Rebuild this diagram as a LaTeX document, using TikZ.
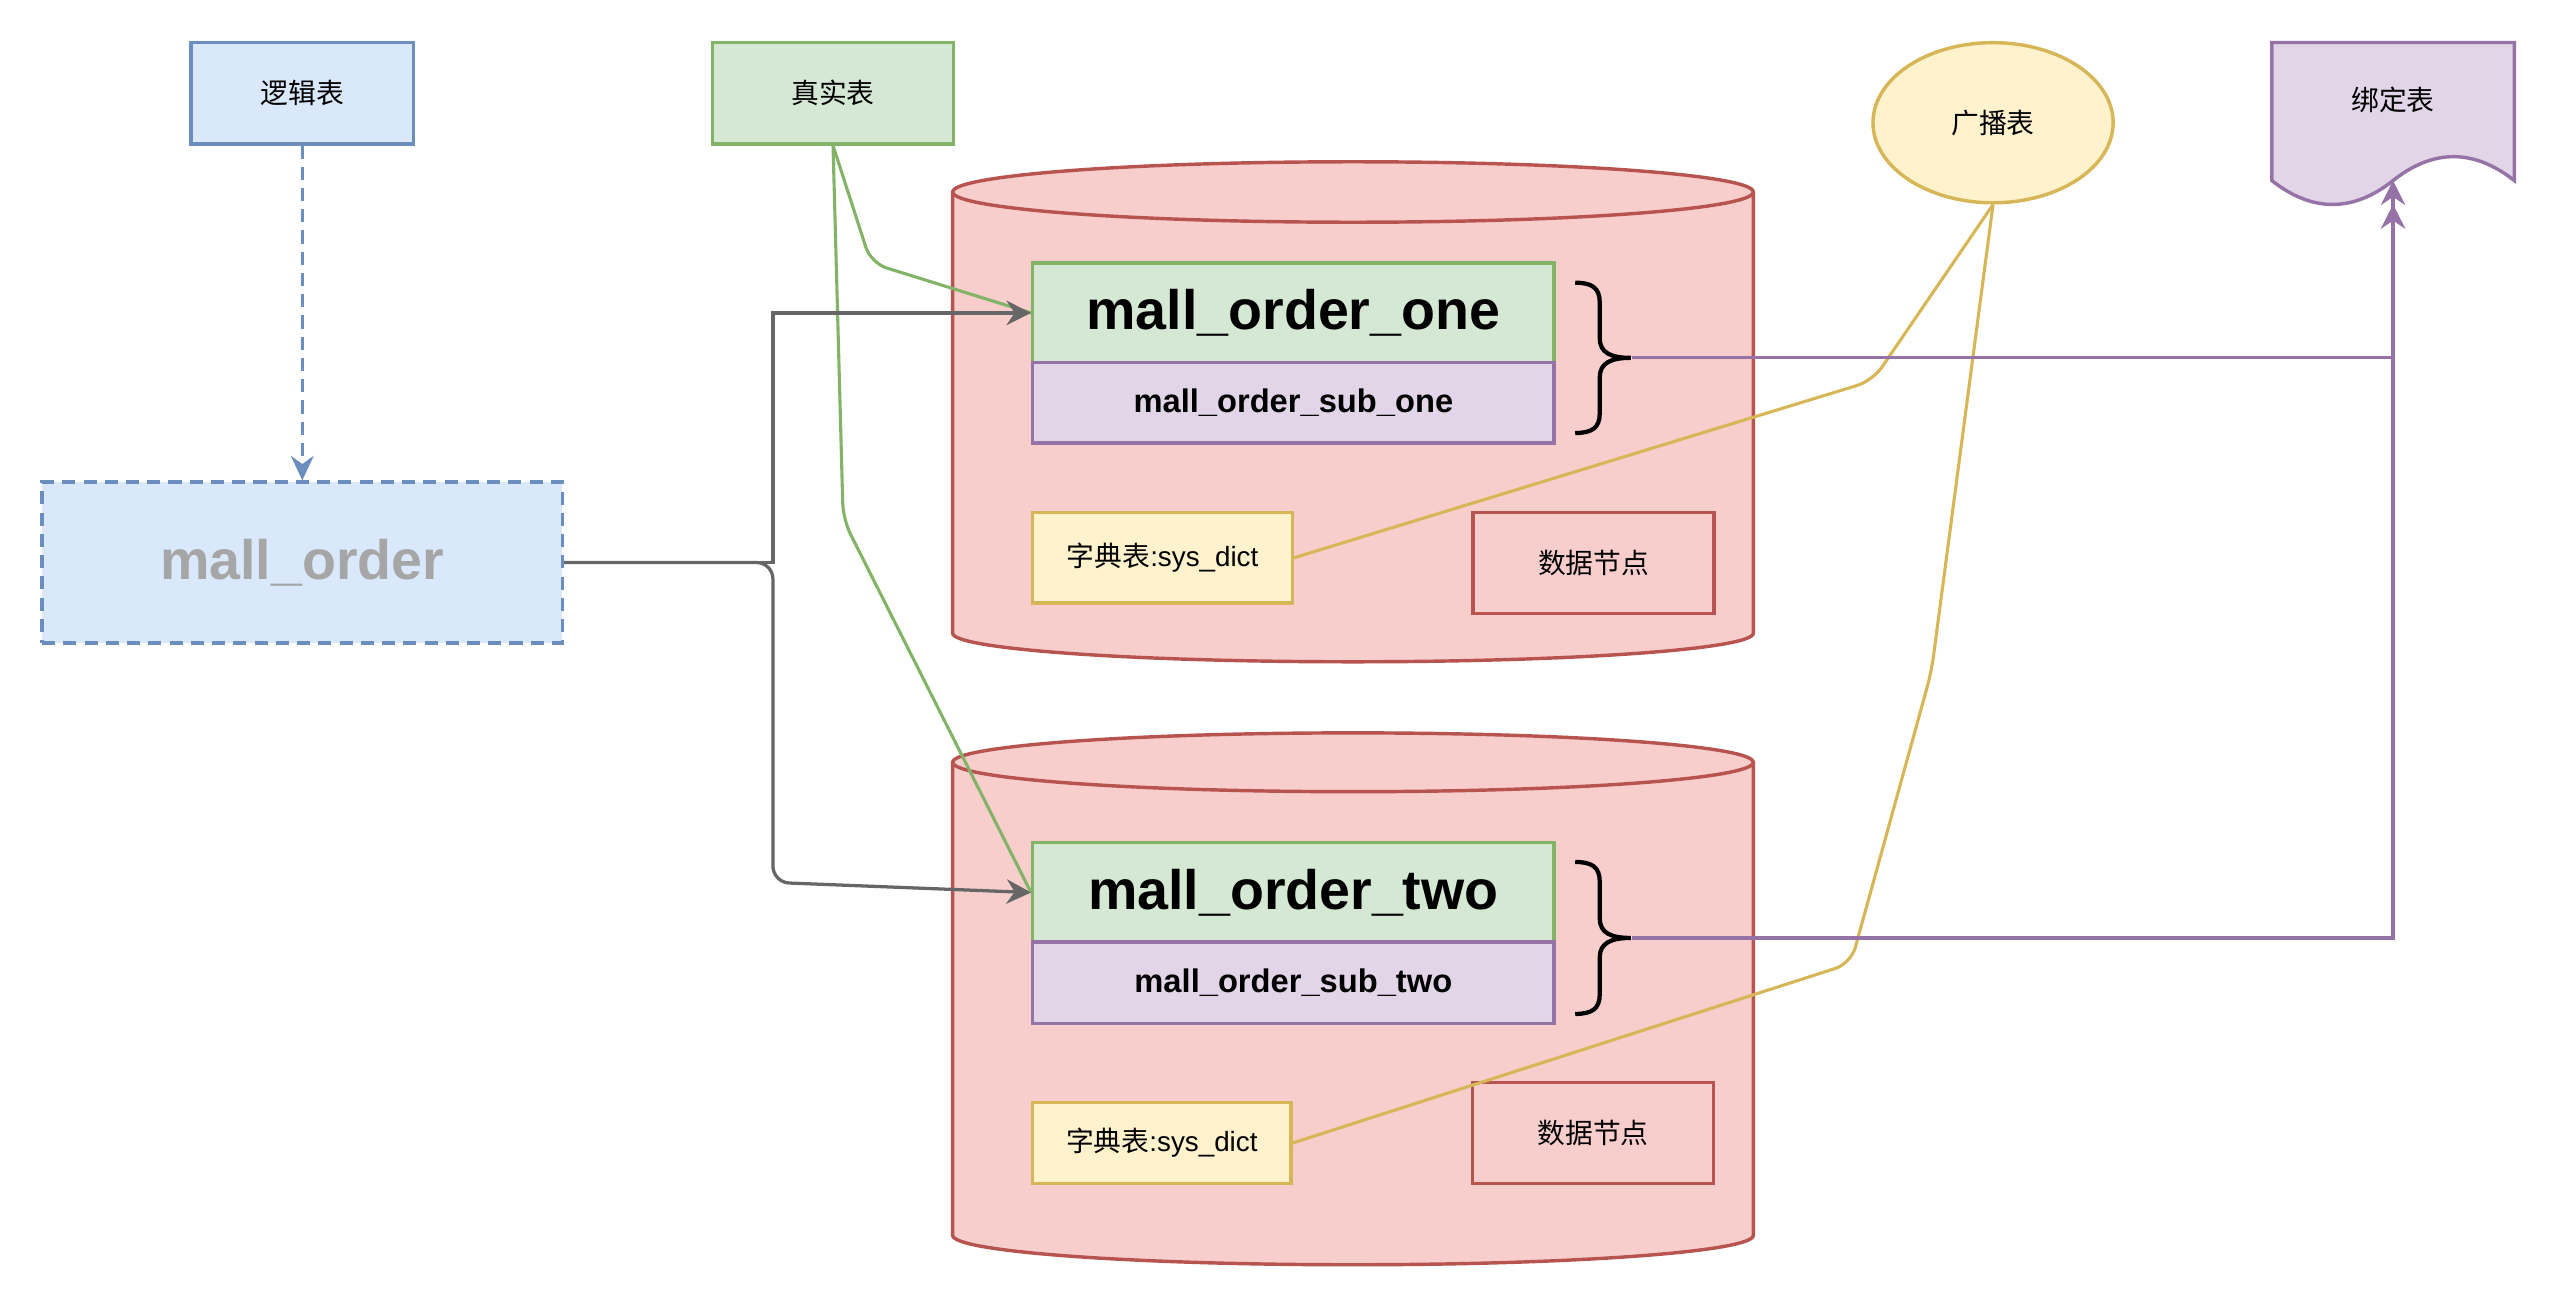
\documentclass[tikz,border=0pt]{standalone}
\usepackage{fontspec}
\setmainfont{Liberation Sans}
\newfontfamily\cjk{Noto Sans CJK SC}
\usetikzlibrary{arrows.meta,shapes.geometric}
\definecolor{bluef}{HTML}{DAE8FC}\definecolor{bluel}{HTML}{6C8EBF}
\definecolor{greenf}{HTML}{D5E8D4}\definecolor{greenl}{HTML}{82B366}
\definecolor{redf}{HTML}{F8CECC}\definecolor{redl}{HTML}{B85450}
\definecolor{yelf}{HTML}{FFF2CC}\definecolor{yell}{HTML}{D6B656}
\definecolor{purf}{HTML}{E1D5E7}\definecolor{purl}{HTML}{9673A6}
\definecolor{edgegray}{HTML}{666666}
\definecolor{txtgray}{HTML}{A6A6A6}
\begin{document}
\begin{tikzpicture}[x=1pt,y=-1pt,
  box/.style={rectangle,line width=2.1pt,inner sep=0pt,align=center},
  cn/.style={font=\cjk\fontsize{17}{20}\selectfont},
  lat/.style={font=\fontsize{17}{20}\selectfont},
  big/.style={font=\bfseries\fontsize{34}{40}\selectfont},
  subt/.style={font=\bfseries\fontsize{20}{24}\selectfont},
  tipa/.style={-{Stealth[length=15pt,width=15pt,inset=5pt]}},
  cylsty/.style={fill=redf,draw=redl,line width=2.1pt},
  grayedge/.style={draw=edgegray,line width=2pt},
  greenedge/.style={draw=greenl,line width=1.9pt},
  yeledge/.style={draw=yell,line width=1.9pt},
  puredge/.style={draw=purl,line width=2pt},
  bracesty/.style={draw=black,line width=2.6pt},
]
\useasboundingbox (0,0) rectangle (1563,798);

% cylinders
\path[cylsty] (583,117.5) -- (583,387.5) arc[start angle=180,end angle=0,x radius=245,y radius=17.5]
  -- (1073,117.5) arc[start angle=0,end angle=-180,x radius=245,y radius=18.5] -- cycle;
\draw[redl,line width=2.1pt] (583,117.5) arc[start angle=180,end angle=0,x radius=245,y radius=18.5];
\path[cylsty] (583,466.5) -- (583,756) arc[start angle=180,end angle=0,x radius=245,y radius=18]
  -- (1073,466.5) arc[start angle=0,end angle=-180,x radius=245,y radius=18] -- cycle;
\draw[redl,line width=2.1pt] (583,466.5) arc[start angle=180,end angle=0,x radius=245,y radius=18];

% top nodes
\node[box,cn,draw=bluel,fill=bluef,minimum width=136,minimum height=62] (logic) at (185,57) {逻辑表};
\node[box,cn,draw=greenl,fill=greenf,minimum width=147.5,minimum height=62] (real) at (509.8,57) {真实表};
\node[ellipse,cn,draw=yell,fill=yelf,line width=2.1pt,inner sep=0pt,minimum width=147,minimum height=98] (bcast) at (1219.7,75.1) {广播表};

% document shape
\filldraw[fill=purf,draw=purl,line width=2.1pt] (1390.3,26) -- (1538.7,26) -- (1538.7,110.5)
  .. controls (1514,91) and (1489,91) .. (1464.5,110.5)
  .. controls (1440,130) and (1415,130) .. (1390.3,110.5) -- cycle;
\node[cn,inner sep=0pt] (bind) at (1464.5,61) {绑定表};
\coordinate (bindtip) at (1464.5,110.5);
\coordinate (bindlow) at (1464.5,125);

% logical table
\node[box,draw=bluel,fill=bluef,dash pattern=on 8pt off 5pt,minimum width=318.4,minimum height=98.5,
  text=txtgray,big] (mall) at (185,344.25) {mall\_order};

% db 1
\node[box,big,draw=greenl,fill=greenf,minimum width=319,minimum height=61] (one) at (791.5,191.5) {mall\_order\_one};
\node[box,subt,draw=purl,fill=purf,minimum width=319,minimum height=49] (subone) at (791.5,246.5) {mall\_order\_sub\_one};
\node[box,lat,draw=yell,fill=yelf,minimum width=159,minimum height=55.4] (dict1) at (711.5,341.3) {{\cjk 字典表}:sys\_dict};
\node[box,cn,draw=redl,fill=redf,minimum width=147.5,minimum height=62] (data1) at (975.3,344.5) {数据节点};

% db 2
\node[box,big,draw=greenl,fill=greenf,minimum width=319,minimum height=61] (two) at (791.5,546.2) {mall\_order\_two};
\node[box,subt,draw=purl,fill=purf,minimum width=319,minimum height=49.7] (subtwo) at (791.5,601.4) {mall\_order\_sub\_two};
\node[box,lat,draw=yell,fill=yelf,minimum width=158,minimum height=49.4] (dict2) at (711,699.5) {{\cjk 字典表}:sys\_dict};
\node[box,cn,draw=redl,fill=redf,minimum width=147.5,minimum height=61.8] (data2) at (975,693.4) {数据节点};

% braces
\draw[bracesty] (964,173) .. controls (974,173) and (979,176) .. (979,185) -- (979,207)
  .. controls (979,216) and (986,219) .. (998,219) .. controls (986,219) and (979,222) .. (979,231)
  -- (979,253) .. controls (979,262) and (974,265) .. (964,265);
\coordinate (br1) at (999,219);
\draw[bracesty] (964,527.5) .. controls (974,527.5) and (979,530.5) .. (979,539.5) -- (979,562)
  .. controls (979,571) and (986,574) .. (998,574) .. controls (986,574) and (979,577) .. (979,586)
  -- (979,608.5) .. controls (979,617.5) and (974,620.5) .. (964,620.5);
\coordinate (br2) at (999,574);

% edges
\draw[draw=bluel,line width=1.9pt,dash pattern=on 8pt off 5pt,-{Stealth[length=15pt,width=14pt,inset=5pt]}]
  (logic.south) -- (mall.north);

\draw[greenedge,rounded corners=10pt] (real.south) -- (533,161) -- (one.west);
\draw[greenedge,rounded corners=10pt] (real.south) -- (516,318) -- (two.west);

\draw[grayedge,tipa] (mall.east) -- (473,344.25) |- (one.west);
\draw[grayedge,tipa,rounded corners=10pt] (mall.east) -- (473,344.25) -- (473,540) -- (two.west);

\draw[yeledge,rounded corners=10pt] (bcast.south) -- (1146,233) -- (dict1.east);
\draw[yeledge,rounded corners=10pt] (bcast.south) -- (1182,411) -- (1132.7,589.6) -- (dict2.east);

\draw[puredge,tipa] (br2) -| (bindlow);
\draw[puredge,tipa] (br1) -| (bindtip);
\end{tikzpicture}
\end{document}
